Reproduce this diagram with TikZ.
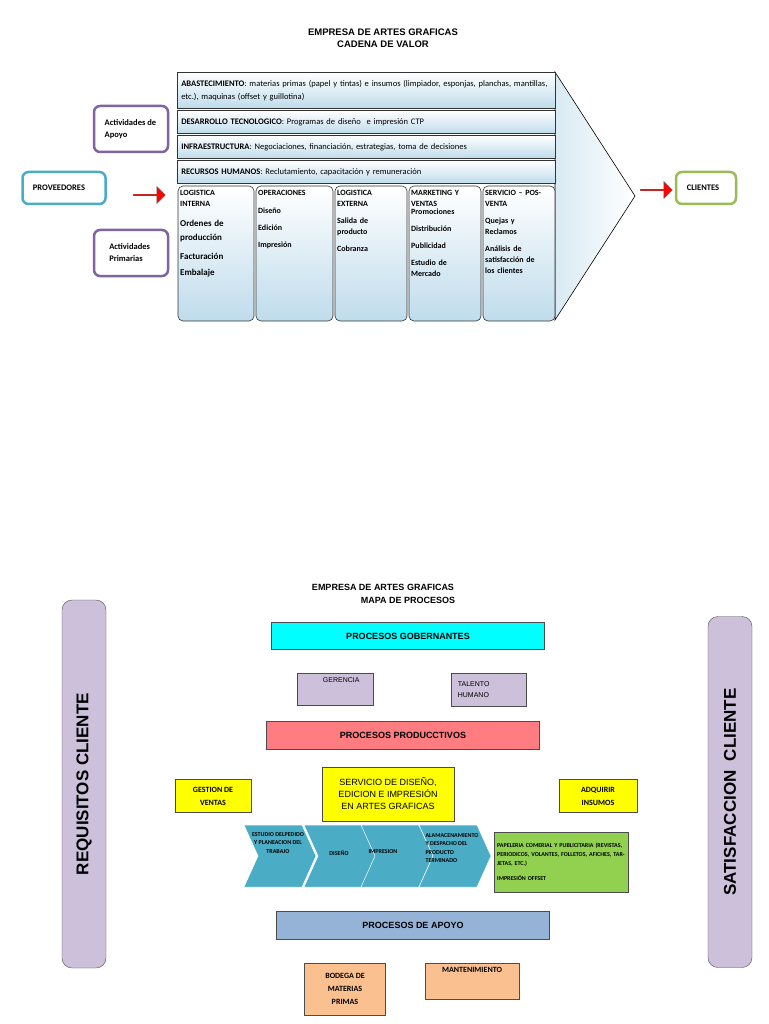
\documentclass[tikz,border=0pt]{standalone}
\usepackage{fontspec}
\setmainfont{Carlito}
\newfontfamily\arialf{Liberation Sans}
\usetikzlibrary{shapes.geometric,shapes.arrows}
\definecolor{vcb}{HTML}{BFDCEC}
\definecolor{lil}{HTML}{CCC0DA}
\definecolor{vio}{HTML}{8064A2}
\definecolor{tea}{HTML}{4BACC6}
\definecolor{grn}{HTML}{9BBB59}
\definecolor{chev}{HTML}{4BACC6}
\definecolor{salm}{HTML}{FF7C80}
\definecolor{apoyo}{HTML}{95B3D7}
\definecolor{peach}{HTML}{FAC090}
\definecolor{lgreen}{HTML}{92D050}
\definecolor{cyn}{HTML}{00FFFF}
\definecolor{ylw}{HTML}{FFFF00}
\begin{document}
\begin{tikzpicture}[x=1pt,y=-1pt,
  bar/.style={draw=black!80,line width=0.6pt,top color=white,bottom color=vcb,anchor=north west,minimum height=#1,inner sep=3pt},
  col/.style={draw=black!80,line width=0.6pt,rounded corners=5pt,top color=white,bottom color=vcb},
  ctext/.style={font=\fontsize{8}{11}\selectfont\bfseries,align=left,anchor=north west,text width=72,inner sep=2pt},
  side/.style={draw=#1,line width=2.5pt,rounded corners=6pt,fill=white,font=\fontsize{8.5}{12}\selectfont\bfseries,align=left},
  redarr/.style={single arrow,draw=black!60,fill=red,minimum height=32pt,minimum width=17pt,single arrow head extend=2pt,single arrow tip angle=90,inner sep=0pt,shape border rotate=0},
  pbox/.style={draw=black!70,fill=#1,font=\arialf\fontsize{9}{11}\selectfont\bfseries,align=center,inner sep=2pt},
  sbox/.style={draw=black!70,fill=#1,font=\fontsize{8}{13}\selectfont\bfseries,align=center,inner sep=2pt},
  chevtxt/.style={font=\fontsize{6}{8.5}\selectfont\bfseries,align=center}
]
\useasboundingbox (0,0) rectangle (768,1024);
\fill[white] (0,0) rectangle (768,1024);
% title
\node[font=\arialf\fontsize{9.5}{12}\selectfont\bfseries,align=center] (t1) at (383,38) {EMPRESA DE ARTES GRAFICAS\\CADENA DE VALOR};
% arrow outline
\draw[line width=0.6pt,left color=vcb!60,right color=white,shading angle=90] (555,72) -- (635,196) -- (555,320) -- cycle;
\node[bar=36,minimum width=378,text width=370,align=left,font=\fontsize{8.5}{13}\selectfont] (ab) at (177,72) {\textbf{ABASTECIMIENTO}: materias primas (papel y tintas) e insumos (limpiador, esponjas, planchas, mantillas, etc.), maquinas (offset y guillotina)};
\node[bar=23,minimum width=378,text width=370,align=left,font=\fontsize{8.5}{10}\selectfont] (dt) at (177,110) {\textbf{DESARROLLO TECNOLOGICO}: Programas de diseño \ e impresión CTP};
\node[bar=23,minimum width=378,text width=370,align=left,font=\fontsize{8.5}{10}\selectfont] (in) at (177,135) {\textbf{INFRAESTRUCTURA}: Negociaciones, financiación, estrategias, toma de decisiones};
\node[bar=23,minimum width=378,text width=370,align=left,font=\fontsize{8.5}{10}\selectfont] (rh) at (177,160) {\textbf{RECURSOS HUMANOS}: Reclutamiento, capacitación y remuneración};
\foreach \a/\b in {178/254,256/333,335/407,409/481,483/555}{\draw[col] (\a,186) rectangle (\b,321);}
\node[ctext] (c1) at (178,188) {LOGISTICA\\INTERNA\\[6pt]{\fontsize{9}{14}\selectfont Ordenes de\\producción\\[5pt]Facturación\\[5pt]Embalaje}};
\node[ctext] (c2) at (256,188) {OPERACIONES\\[7pt]Diseño\\[6pt]Edición\\[6pt]Impresión};
\node[ctext] (c3) at (335,188) {LOGISTICA\\EXTERNA\\[6pt]Salida de\\producto\\[6pt]Cobranza};
\node[ctext] (c4) at (409,188) {MARKETING Y\\VENTAS\\[-3pt]Promociones\\[6pt]Distribución\\[6pt]Publicidad\\[6pt]Estudio de\\Mercado};
\node[ctext] (c5) at (483,188) {SERVICIO – POS-\\VENTA\\[6pt]Quejas y\\Reclamos\\[6pt]Análisis de\\satisfacción de\\los clientes};
% side
\node[side=vio,minimum width=74,minimum height=46] (apo) at (131,129) {Actividades de\\Apoyo\hspace*{30pt}};
\node[side=tea,minimum width=83,minimum height=32,align=left] (prov) at (64,188) {PROVEEDORES\hspace*{10pt}};
\node[side=vio,minimum width=74,minimum height=46] (pri) at (131,253) {Actividades\\Primarias\hspace*{10pt}};
\node[side=grn,minimum width=60,minimum height=32] (cli) at (706,188) {CLIENTES\hspace*{6pt}};
\node[redarr] (ar1) at (149,195) {};
\node[redarr] (ar2) at (656,190) {};
% ---------- bottom
\node[font=\arialf\fontsize{9}{11}\selectfont\bfseries,align=left] (t2) at (383,587) {EMPRESA DE ARTES GRAFICAS};
\node[font=\arialf\fontsize{9}{11}\selectfont\bfseries] (t3) at (408,600) {MAPA DE PROCESOS};
\node[draw=black!70,fill=lil,rounded corners=10pt,minimum width=44,minimum height=368] (req) at (84,784) {};
\node[rotate=90,font=\arialf\fontsize{17}{19}\selectfont\bfseries] (reqt) at (req) {REQUISITOS CLIENTE};
\node[draw=black!70,fill=lil,rounded corners=10pt,minimum width=44,minimum height=351] (sat) at (730,792) {};
\node[rotate=90,font=\arialf\fontsize{17}{19}\selectfont\bfseries] (satt) at (sat) {SATISFACCION \ CLIENTE};
\node[pbox=cyn,minimum width=273,minimum height=27] (gob) at (408,636) {PROCESOS GOBERNANTES};
\node[sbox=lil,minimum width=76,minimum height=32,font=\arialf\fontsize{7}{11}\selectfont,anchor=north west,align=left] (ger) at (297,673) {\hspace*{12pt}GERENCIA\\[8pt]};
\node[sbox=lil,minimum width=75,minimum height=33,font=\arialf\fontsize{7}{11}\selectfont,anchor=north west,align=left] (tal) at (451,673) {TALENTO\hspace*{30pt}\\HUMANO};
\node[pbox=salm,minimum width=273,minimum height=28] (prod) at (403,735) {PROCESOS PRODUCCTIVOS};
\node[sbox=ylw,minimum width=76,minimum height=33] (gv) at (213,796) {GESTION DE\\VENTAS};
\node[draw=black!70,fill=ylw,minimum width=132,minimum height=54,font=\arialf\fontsize{9}{12}\selectfont,align=center] (serv) at (388,794) {SERVICIO DE DISEÑO,\\EDICION E IMPRESIÓN\\EN ARTES GRAFICAS};
\node[sbox=ylw,minimum width=78,minimum height=33] (adq) at (598,796) {ADQUIRIR\\INSUMOS};
\foreach \a in {244,304,361,419}{
  \fill[chev,draw=white,line width=0.5pt] (\a,825) -- (\a+58,825) -- (\a+72,856) -- (\a+58,887) -- (\a,887) -- (\a+14,856) -- cycle;}
\node[chevtxt] (ch1) at (278,843) {ESTUDIO DELPEDIDO\\Y PLANEACION DEL\\TRABAJO};
\node[chevtxt] (ch2) at (339,853) {DISEÑO};
\node[chevtxt] (ch3) at (383,852) {IMPRESION};
\node[chevtxt,align=left] (ch4) at (452,848) {ALAMACENAMIENTO\\Y DESPACHO DEL\\PRODUCTO\\TERMINADO};
\node[draw=black!70,fill=lgreen,minimum width=134,minimum height=60,anchor=north west,font=\fontsize{6}{9}\selectfont\bfseries,align=left,text width=128,inner sep=3pt] (pap) at (494,832) {PAPELERIA COMERIAL Y PUBLICITARIA (REVISTAS, PERIODICOS, VOLANTES, FOLLETOS, AFICHES, TARJETAS, ETC.)\\[6pt]IMPRESIÓN OFFSET};
\node[pbox=apoyo,minimum width=273,minimum height=28] (apy) at (413,925) {PROCESOS DE APOYO};
\node[sbox=peach,minimum width=81,minimum height=52] (bod) at (345,989) {BODEGA DE\\MATERIAS\\PRIMAS};
\node[sbox=peach,minimum width=94,minimum height=36,anchor=north] (man) at (472,963) {MANTENIMIENTO\\[10pt]};
\end{tikzpicture}
\end{document}
